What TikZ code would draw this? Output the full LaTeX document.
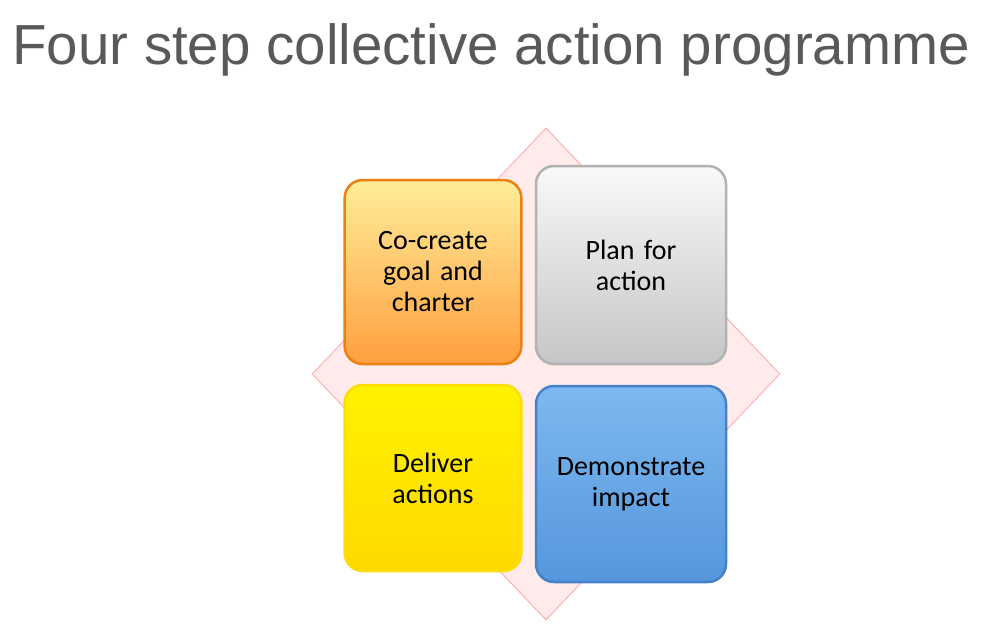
\documentclass[tikz,border=0pt]{standalone}
\usepackage{fontspec}
\setmainfont{Carlito}
\newfontfamily\titlefont{Liberation Sans}
\usetikzlibrary{shapes.geometric, positioning}
\definecolor{bluetop}{RGB}{125,185,240}
\definecolor{bluebot}{RGB}{85,150,220}
\definecolor{blueedge}{RGB}{70,130,200}
\tikzset{
  quadbox/.style={rectangle, rounded corners=18pt, line width=2.5pt, align=center,
    font=\fontsize{28}{31}\selectfont, text width=170pt},
}
\begin{document}
\begin{tikzpicture}[x=1pt, y=-1pt]
        \useasboundingbox (0,0) rectangle (994,630);
        \node[anchor=base west, text=black!65, font=\titlefont\fontsize{56.5}{66}\selectfont,
          inner sep=0pt](title) at (12,64){Four step collective action programme};

        \node[diamond, draw=red!35, fill=red!8, line width=0.8pt, minimum width=468pt,
          minimum height=492pt, inner sep=0pt](back) at (546,374){};

        \node[quadbox, draw=orange!70!brown, top color=orange!35!yellow!40, bottom color=orange!75,
          minimum width=172pt, minimum height=184pt](q1) at (433,272){Co-create\\goal and\\charter};
        \node[quadbox, draw=gray!60, top color=white!95!gray, bottom color=gray!45,
          minimum width=190pt, minimum height=198pt](q2) at (631,265){Plan for\\action};
        \node[quadbox, draw=yellow!80!orange, top color=yellow!90!orange, bottom color=yellow!70!orange,
          minimum width=172pt, minimum height=186pt](q3) at (433,478){Deliver\\actions};
        \node[quadbox, draw=blueedge, top color=bluetop, bottom color=bluebot,
          minimum width=190pt, minimum height=196pt](q4) at (631,484){Demonstrate\\impact};
\end{tikzpicture}
\end{document}
